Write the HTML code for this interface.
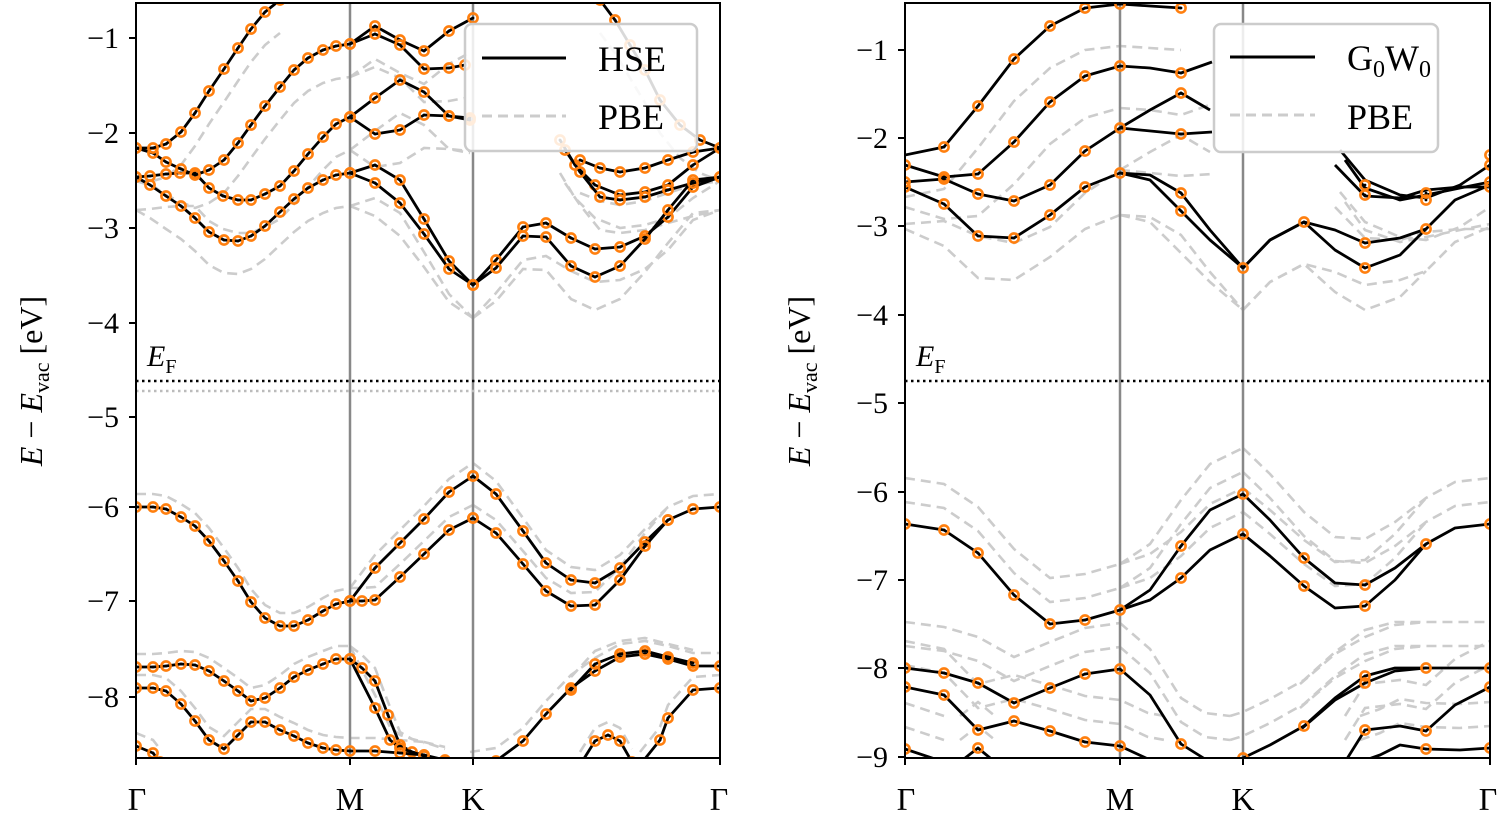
<!DOCTYPE html>
<html><head><meta charset="utf-8"><style>
html,body{margin:0;padding:0;background:#fff}
svg{display:block}
text{font-family:"Liberation Serif",serif;fill:#000}
</style></head><body>
<svg width="1504" height="823" viewBox="0 0 1504 823" xmlns="http://www.w3.org/2000/svg">
<defs>
<marker id="mk" viewBox="-7 -7 14 14" markerWidth="14" markerHeight="14" markerUnits="userSpaceOnUse" refX="0" refY="0" overflow="visible">
<circle r="4.6" fill="none" stroke="#ff7f0e" stroke-width="2.6"/><circle r="1.4" fill="#000"/></marker>
<clipPath id="cl"><rect x="136" y="3" width="584" height="755"/></clipPath>
<clipPath id="cr"><rect x="905" y="3" width="585" height="755"/></clipPath>
<g id="Lc">
<polyline points="136,177 150,185 166,196 181,206 195,218 209,232 224,240 238,241 251,236 265,226 280,212 294,199 308,188 323,180 336,175 350,173"/>
<polyline points="350,173 375,165 400,180 424,219 449,261 473,285"/>
<polyline points="350,173 375,183 400,203 424,234 449,269 473,285"/>
<polyline points="473,285 496,260 523,227 546,223 571,238 595,249 620,247 645,236 668,217 693,187 720,177"/>
<polyline points="473,285 496,268 523,236 546,237 571,266 595,277 620,266 645,239 668,210 693,180 720,177"/>
<polyline points="136,177 150,176 166,174 180,173 195,173 209,188 223,196 238,200 251,200 265,194 280,186 294,171 308,154 323,137 336,124 350,117"/>
<polyline points="350,117 375,134 400,130 424,115 449,116 470,118"/>
<polyline points="350,117 375,98 400,80 424,92 449,116 470,120"/>
<polyline points="136,148 153,153 166,162 181,169 195,175 209,170 224,160 238,143 251,125 265,106 280,87 294,70 308,58 323,50 336,46 350,44"/>
<polyline points="350,44 375,26 400,40 424,51 449,31 473,18"/>
<polyline points="350,44 375,34 400,45 424,69 449,68 465,65"/>
<polyline points="136,148 153,148 166,144 181,132 195,113 209,91 224,69 238,48 251,29 265,12 280,0"/>
<polyline points="560,140 575,165 595,185 620,195 645,192 668,185 693,165 720,148"/>
<polyline points="565,150 580,172 600,197 620,200 645,197 668,190 693,183 720,177"/>
<polyline points="580,160 600,168 620,172 645,168 668,160 693,152 720,148"/>
<polyline points="600,0 615,20 630,45 645,70 660,100 680,125 700,140 720,148"/>
</g>
<g id="Lv">
<polyline points="136,507 153,507 166,509 181,517 195,526 209,541 224,561 238,581 251,602 265,618 280,626 294,626 308,620 323,611 336,604 350,601"/>
<polyline points="350,601 375,568 400,543 424,519 449,492 473,476"/>
<polyline points="350,601 362,601 375,600 400,577 424,554 449,530 473,518"/>
<polyline points="473,476 496,494 523,531 546,563 571,580 595,583 620,568 645,542 668,520 693,509 720,507"/>
<polyline points="473,518 496,533 523,564 546,591 571,606 595,605 620,580 645,546 668,520"/>
<polyline points="136,667 153,667 166,666 181,664 195,665 209,671 224,681 238,691 251,701 265,698 280,688 294,677 308,670 323,664 336,659 350,659"/>
<polyline points="350,659 362,668 375,681 388,715 400,745 412,752 424,755 445,760"/>
<polyline points="350,659 375,708 390,740 400,748 424,756"/>
<polyline points="136,688 153,688 166,691 181,704 195,721 209,740 224,749 238,735 251,722 265,722 280,730 294,736 308,743 323,748 336,750 350,751 375,751 400,753 424,755 445,762"/>
<polyline points="136,746 153,753 160,762"/>
<polyline points="470,765 496,761 523,741 546,714 571,688 595,671 620,657 645,654 668,659 693,666 720,666"/>
<polyline points="571,690 595,664 620,654 645,651 668,657 693,663"/>
<polyline points="640,765 660,740 668,718 693,690 720,688"/>
<polyline points="580,765 595,741 608,735 620,741 632,762"/>
</g>
<g id="Rc">
<polyline points="905,187 944,204 978,236 1014,238 1050,215 1085,187 1120,173"/>
<polyline points="1120,173 1150,175 1181,193 1210,230 1243,268"/>
<polyline points="1120,173 1150,180 1181,211 1210,240 1243,268"/>
<polyline points="1243,268 1270,240 1304,222 1335,230 1365,243 1400,238 1426,229 1455,200 1490,185"/>
<polyline points="1243,268 1270,240 1304,222 1335,250 1365,268 1400,255 1426,229"/>
<polyline points="905,182 944,179 978,194 1014,201 1050,185 1085,151 1120,128"/>
<polyline points="1120,128 1150,110 1181,93 1210,110"/>
<polyline points="1120,128 1181,134 1212,132"/>
<polyline points="905,165 944,177 978,174 1014,142 1050,102 1085,76 1120,66"/>
<polyline points="1120,66 1150,68 1181,73 1212,62"/>
<polyline points="905,155 944,147 978,106 1014,59 1050,26 1085,8 1120,4 1150,6 1181,8"/>
<polyline points="1340,150 1365,180 1400,195 1426,198 1460,185 1490,165"/>
<polyline points="1345,160 1365,188 1400,200 1426,195 1460,188 1490,182"/>
<polyline points="1335,165 1365,196 1400,198 1426,190 1460,187 1490,187"/>
</g>
<g id="Rv">
<polyline points="905,524 944,530 978,553 1014,595 1050,624 1085,620 1120,610"/>
<polyline points="1120,610 1150,590 1181,546 1210,510 1243,494"/>
<polyline points="1120,610 1150,600 1181,578 1210,550 1243,534"/>
<polyline points="1243,494 1270,520 1304,558 1335,583 1365,585 1395,568 1426,544 1455,528 1490,524"/>
<polyline points="1243,534 1270,556 1304,586 1335,608 1365,606 1395,580 1426,544"/>
<polyline points="905,668 944,673 978,683 1014,703 1050,688 1085,674 1120,669"/>
<polyline points="1120,669 1150,695 1181,744 1205,759 1230,762"/>
<polyline points="905,687 944,695 978,730 1014,721 1050,731 1085,742 1120,746 1148,759 1165,762"/>
<polyline points="905,749 944,762"/>
<polyline points="960,762 978,748 995,762"/>
<polyline points="1230,762 1243,758 1270,745 1304,726 1335,698 1365,676 1395,668 1426,668 1490,668"/>
<polyline points="1300,730 1335,700 1365,683 1395,671 1426,668"/>
<polyline points="1345,762 1365,730 1400,726 1426,731 1455,705 1490,687"/>
<polyline points="1360,762 1380,755 1400,745 1426,749 1460,750 1490,748"/>
</g>
</defs>

<!-- LEFT PANEL -->
<g clip-path="url(#cl)">
<g fill="none" stroke="#cccccc" stroke-width="2.6" stroke-dasharray="10,6">
<use href="#Lc" transform="translate(0,33)"/>
<use href="#Lv" transform="translate(0,-13)"/>
</g>
<line x1="350" y1="3" x2="350" y2="758" stroke="#888" stroke-width="2.5"/>
<line x1="473" y1="3" x2="473" y2="758" stroke="#888" stroke-width="2.5"/>
<line x1="136" y1="391" x2="720" y2="391" stroke="#bbbbbb" stroke-width="2.5" stroke-dasharray="2.5,3.5"/>
<line x1="136" y1="381" x2="720" y2="381" stroke="#000" stroke-width="2.5" stroke-dasharray="2.5,3.5"/>
<g fill="none" stroke="#000" stroke-width="2.8" stroke-linejoin="round" marker-start="url(#mk)" marker-mid="url(#mk)" marker-end="url(#mk)">
<use href="#Lc"/><use href="#Lv"/>
</g>
</g>
<rect x="136" y="3" width="584" height="755" fill="none" stroke="#000" stroke-width="2"/>
<text x="147" y="366" font-size="30" font-style="italic">E<tspan font-size="20" font-style="normal" dy="7">F</tspan></text>
<g stroke="#000" stroke-width="2">
<line x1="129" y1="38" x2="136" y2="38"/><line x1="129" y1="133" x2="136" y2="133"/><line x1="129" y1="228" x2="136" y2="228"/><line x1="129" y1="323" x2="136" y2="323"/><line x1="129" y1="417" x2="136" y2="417"/><line x1="129" y1="507" x2="136" y2="507"/><line x1="129" y1="601" x2="136" y2="601"/><line x1="129" y1="697" x2="136" y2="697"/>
<line x1="136" y1="758" x2="136" y2="765"/><line x1="350" y1="758" x2="350" y2="765"/><line x1="473" y1="758" x2="473" y2="765"/><line x1="720" y1="758" x2="720" y2="765"/>
</g>
<g font-size="30" text-anchor="end">
<text x="119" y="48">−1</text><text x="119" y="143">−2</text><text x="119" y="238">−3</text><text x="119" y="333">−4</text><text x="119" y="427">−5</text><text x="119" y="517">−6</text><text x="119" y="611">−7</text><text x="119" y="707">−8</text>
</g>
<g font-size="32" text-anchor="middle">
<text x="137" y="810">Γ</text><text x="350" y="810">M</text><text x="473" y="810">K</text><text x="719" y="810">Γ</text>
</g>
<text transform="translate(42,381) rotate(-90)" font-size="32" text-anchor="middle"><tspan font-style="italic">E</tspan> − <tspan font-style="italic">E</tspan><tspan font-size="22" dy="7">vac</tspan><tspan dy="-7"> [eV]</tspan></text>
<rect x="465" y="24" width="232" height="127" rx="7" fill="#fff" fill-opacity="0.85" stroke="#cccccc" stroke-width="2.5"/>
<line x1="482" y1="58" x2="566" y2="58" stroke="#000" stroke-width="3"/>
<line x1="482" y1="116" x2="566" y2="116" stroke="#cccccc" stroke-width="3" stroke-dasharray="10,6"/>
<text x="598" y="71" font-size="36">HSE</text>
<text x="598" y="129" font-size="36">PBE</text>

<!-- RIGHT PANEL -->
<g clip-path="url(#cr)">
<g fill="none" stroke="#cccccc" stroke-width="2.6" stroke-dasharray="10,6">
<use href="#Rc" transform="translate(0,42)"/>
<use href="#Rv" transform="translate(0,-46)"/>
<use href="#Rv" transform="translate(0,-22)"/>
</g>
<line x1="1120" y1="3" x2="1120" y2="758" stroke="#888" stroke-width="2.5"/>
<line x1="1243" y1="3" x2="1243" y2="758" stroke="#888" stroke-width="2.5"/>
<line x1="905" y1="381" x2="1490" y2="381" stroke="#000" stroke-width="2.5" stroke-dasharray="2.5,3.5"/>
<g fill="none" stroke="#000" stroke-width="2.8" stroke-linejoin="round">
<use href="#Rc"/><use href="#Rv"/>
</g>
<g fill="none">
<polyline points="905,187 944,204 978,236 1014,238 1050,215 1085,187 1120,173 1181,193 1181,211 1243,268 1304,222 1365,243 1365,268 1426,229 905,182 944,179 978,194 1014,201 1050,185 1085,151 1120,128 1181,93 1181,134 905,165 944,177 978,174 1014,142 1050,102 1085,76 1120,66 1181,73 944,147 978,106 1014,59 1050,26 1085,8 1120,4 1181,8 1490,155 1490,165 1490,182 1490,187 1426,200 1426,193 1365,185 1365,195 905,524 944,530 978,553 1014,595 1050,624 1085,620 1120,610 1181,546 1181,578 1243,494 1243,534 1304,558 1304,586 1365,585 1365,606 1426,544 1490,524 905,668 944,673 978,683 1014,703 1050,688 1085,674 1120,669 1181,744 905,687 944,695 978,730 1014,721 1050,731 1085,742 1120,746 905,749 978,748 1304,726 1365,676 1365,683 1426,668 1490,668 1365,730 1426,731 1490,687 1426,749 1490,748 1243,758" stroke="none" marker-start="url(#mk)" marker-mid="url(#mk)" marker-end="url(#mk)"/>
</g>
</g>
<rect x="905" y="3" width="585" height="755" fill="none" stroke="#000" stroke-width="2"/>
<text x="916" y="366" font-size="30" font-style="italic">E<tspan font-size="20" font-style="normal" dy="7">F</tspan></text>
<g stroke="#000" stroke-width="2">
<line x1="898" y1="50" x2="905" y2="50"/><line x1="898" y1="138" x2="905" y2="138"/><line x1="898" y1="226" x2="905" y2="226"/><line x1="898" y1="315" x2="905" y2="315"/><line x1="898" y1="403" x2="905" y2="403"/><line x1="898" y1="492" x2="905" y2="492"/><line x1="898" y1="580" x2="905" y2="580"/><line x1="898" y1="668" x2="905" y2="668"/><line x1="898" y1="757" x2="905" y2="757"/>
<line x1="905" y1="758" x2="905" y2="765"/><line x1="1120" y1="758" x2="1120" y2="765"/><line x1="1243" y1="758" x2="1243" y2="765"/><line x1="1490" y1="758" x2="1490" y2="765"/>
</g>
<g font-size="30" text-anchor="end">
<text x="888" y="60">−1</text><text x="888" y="148">−2</text><text x="888" y="236">−3</text><text x="888" y="325">−4</text><text x="888" y="413">−5</text><text x="888" y="502">−6</text><text x="888" y="590">−7</text><text x="888" y="678">−8</text><text x="888" y="767">−9</text>
</g>
<g font-size="32" text-anchor="middle">
<text x="906" y="810">Γ</text><text x="1120" y="810">M</text><text x="1243" y="810">K</text><text x="1488" y="810">Γ</text>
</g>
<text transform="translate(810,381) rotate(-90)" font-size="32" text-anchor="middle"><tspan font-style="italic">E</tspan> − <tspan font-style="italic">E</tspan><tspan font-size="22" dy="7">vac</tspan><tspan dy="-7"> [eV]</tspan></text>
<rect x="1214" y="24" width="224" height="128" rx="7" fill="#fff" fill-opacity="0.85" stroke="#cccccc" stroke-width="2.5"/>
<line x1="1230" y1="57" x2="1315" y2="57" stroke="#000" stroke-width="3"/>
<line x1="1230" y1="115" x2="1315" y2="115" stroke="#cccccc" stroke-width="3" stroke-dasharray="10,6"/>
<text x="1347" y="70" font-size="36">G<tspan font-size="24" dy="7">0</tspan><tspan dy="-7">W</tspan><tspan font-size="24" dy="7">0</tspan></text>
<text x="1347" y="129" font-size="36">PBE</text>
</svg>
</body></html>
